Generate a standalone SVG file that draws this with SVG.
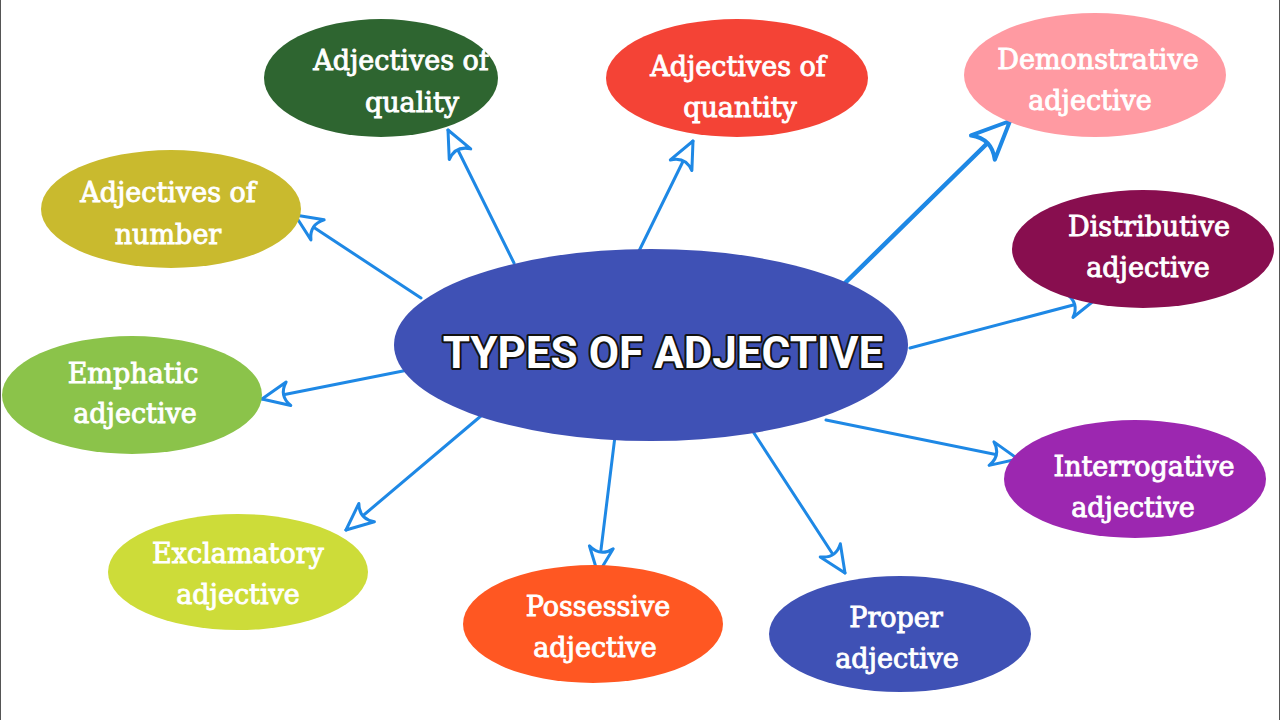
<svg xmlns="http://www.w3.org/2000/svg" width="1280" height="720" viewBox="0 0 1280 720">
<defs>
<style>
.n{font-family:"DejaVu Serif","Liberation Serif",serif;font-size:27px;fill:#fff;stroke:#fff;stroke-width:0.9;text-anchor:middle}
.c{stroke:#1E88E5;stroke-width:3;fill:none;stroke-linecap:round}
.t{font-family:Roboto,"Liberation Sans",sans-serif;font-weight:bold;font-size:44px;fill:#fff;stroke:#111;stroke-width:4;paint-order:stroke;stroke-linejoin:round;text-anchor:middle}
</style>
<marker id="a" markerUnits="userSpaceOnUse" viewBox="-32 -17 36 34" refX="0" refY="0" markerWidth="36" markerHeight="34" orient="auto">
<path d="M0,0 L-27,-12 Q-17,0 -27,12 Z" fill="#fff" stroke="#1E88E5" stroke-width="3" stroke-linejoin="round"/>
</marker>
<marker id="b" markerUnits="userSpaceOnUse" viewBox="-46 -24 50 48" refX="0" refY="0" markerWidth="50" markerHeight="48" orient="auto">
<path d="M0,0 L-38,-17 Q-25,0 -38,17 Z" fill="#fff" stroke="#1E88E5" stroke-width="4" stroke-linejoin="round"/>
</marker>
</defs>
<rect width="1280" height="720" fill="#fff"/>
<line x1="0.5" y1="0" x2="0.5" y2="720" stroke="#555" stroke-width="1"/>
<line x1="1279.5" y1="0" x2="1279.5" y2="720" stroke="#555" stroke-width="1"/>
<g id="connectors">
<line class="c" x1="514" y1="263" x2="448" y2="130" marker-end="url(#a)"/>
<line class="c" x1="639" y1="251" x2="693" y2="141" marker-end="url(#a)"/>
<line class="c" x1="845" y1="283" x2="1010" y2="121" marker-end="url(#b)" style="stroke-width:4.5"/>
<line class="c" x1="421" y1="298" x2="295" y2="215" marker-end="url(#a)"/>
<line class="c" x1="910" y1="348" x2="1096" y2="299" marker-end="url(#a)"/>
<line class="c" x1="408" y1="370" x2="262" y2="399" marker-end="url(#a)"/>
<line class="c" x1="826" y1="420" x2="1018" y2="459" marker-end="url(#a)"/>
<line class="c" x1="488" y1="410" x2="346" y2="530" marker-end="url(#a)"/>
<line class="c" x1="617" y1="420" x2="598" y2="574" marker-end="url(#a)"/>
<line class="c" x1="752" y1="430" x2="845" y2="573" marker-end="url(#a)"/>
</g>
<g id="center">
<ellipse cx="651" cy="345" rx="257" ry="96" fill="#3F51B5"/>
<text class="t" x="663" y="368">TYPES OF ADJECTIVE</text>
</g>
<g id="quality">
<ellipse cx="381" cy="78" rx="117" ry="59" fill="#2E6530"/>
<text class="n" x="401" y="70">Adjectives of</text>
<text class="n" x="412" y="112">quality</text>
</g>
<g id="quantity">
<ellipse cx="737" cy="78" rx="131" ry="59" fill="#F44336"/>
<text class="n" x="738" y="76">Adjectives of</text>
<text class="n" x="740" y="117">quantity</text>
</g>
<g id="demonstrative">
<ellipse cx="1095" cy="75" rx="131" ry="62" fill="#FF9AA2"/>
<text class="n" x="1098" y="69">Demonstrative</text>
<text class="n" x="1090" y="110">adjective</text>
</g>
<g id="number">
<ellipse cx="171" cy="209" rx="130" ry="59" fill="#C9BA2E"/>
<text class="n" x="168" y="202">Adjectives of</text>
<text class="n" x="168" y="244">number</text>
</g>
<g id="distributive">
<ellipse cx="1143" cy="249" rx="131" ry="59" fill="#880E4F"/>
<text class="n" x="1149" y="236">Distributive</text>
<text class="n" x="1148" y="277">adjective</text>
</g>
<g id="emphatic">
<ellipse cx="132" cy="395" rx="130" ry="59" fill="#8BC34A"/>
<text class="n" x="133" y="383">Emphatic</text>
<text class="n" x="135" y="423">adjective</text>
</g>
<g id="interrogative">
<ellipse cx="1135" cy="479" rx="131" ry="59" fill="#9C27B0"/>
<text class="n" x="1144" y="476">Interrogative</text>
<text class="n" x="1133" y="517">adjective</text>
</g>
<g id="exclamatory">
<ellipse cx="238" cy="572" rx="130" ry="58" fill="#CDDC39"/>
<text class="n" x="238" y="563">Exclamatory</text>
<text class="n" x="238" y="604">adjective</text>
</g>
<g id="possessive">
<ellipse cx="593" cy="624" rx="130" ry="59" fill="#FF5722"/>
<text class="n" x="598" y="616">Possessive</text>
<text class="n" x="595" y="657">adjective</text>
</g>
<g id="proper">
<ellipse cx="900" cy="634" rx="131" ry="58" fill="#3F51B5"/>
<text class="n" x="896" y="627">Proper</text>
<text class="n" x="897" y="668">adjective</text>
</g>
</svg>
